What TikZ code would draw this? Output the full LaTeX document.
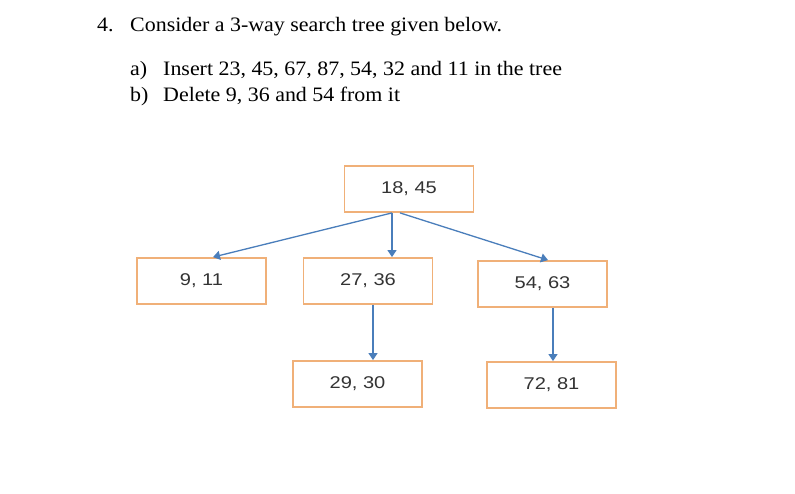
\documentclass[tikz,border=0pt]{standalone}
\usepackage{fontspec}
\setmainfont[FakeStretch=1.07]{Liberation Serif}
\newfontfamily\boxfont[FakeStretch=1.18]{Liberation Sans}
\usetikzlibrary{arrows.meta}
\definecolor{boxline}{RGB}{240,176,120}
\definecolor{arrowblue}{RGB}{74,126,187}
\tikzset{
  keybox/.style={draw=boxline, line width=1.8pt, fill=white, minimum width=129pt, minimum height=46pt, inner sep=0pt, font=\boxfont\fontsize{17}{19}\selectfont, text=black!80},
  link/.style={draw=arrowblue, line width=1.3pt, -{Triangle[length=7pt,width=9pt]}},
  qtext/.style={anchor=base west, inner sep=0pt, font=\fontsize{20.5}{24}\selectfont}
}
\begin{document}
\begin{tikzpicture}[x=1pt,y=-1pt]
\useasboundingbox[fill=white] (0,0) rectangle (795,493);
% question text
\node[qtext] (n4) at (97,31) {4.};
\node[qtext] (q) at (130,31) {Consider a 3-way search tree given below.};
\node[qtext] (la) at (130,75) {a)};
\node[qtext] (qa) at (163,75) {Insert 23, 45, 67, 87, 54, 32 and 11 in the tree};
\node[qtext] (lb) at (130,101) {b)};
\node[qtext] (qb) at (163,101) {Delete 9, 36 and 54 from it};
% tree
\node[keybox] (root) at (409,189) {18, 45};
\node[keybox] (l) at (201.5,281) {9, 11};
\node[keybox] (m) at (368,281) {27, 36};
\node[keybox] (r) at (542.5,284) {54, 63};
\node[keybox] (ml) at (357.5,384) {29, 30};
\node[keybox] (rl) at (551.5,385) {72, 81};
\draw[link] (root.south -| 392,0) -- (l.north -| 213,0);
\draw[link] (root.south -| 392,0) -- (m.north -| 392,0);
\draw[link] (root.south -| 400,0) -- (r.north -| 548,0);
\draw[link] (m.south -| 373,0) -- (ml.north -| 373,0);
\draw[link] (r.south -| 553,0) -- (rl.north -| 553,0);
\end{tikzpicture}
\end{document}
